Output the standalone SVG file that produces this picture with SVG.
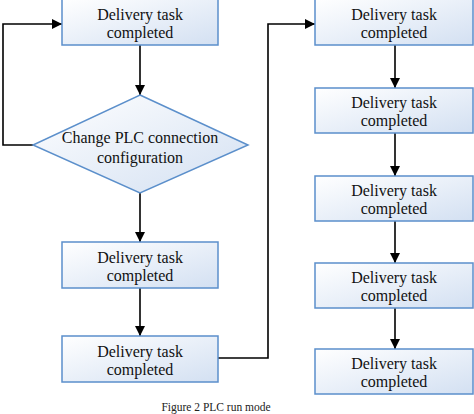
<svg xmlns="http://www.w3.org/2000/svg" width="474" height="414" viewBox="0 0 474 414">
<defs>
<linearGradient id="g" x1="0" y1="0" x2="1" y2="1">
<stop offset="0" stop-color="#ffffff"/>
<stop offset="1" stop-color="#d3e0f2"/>
</linearGradient>
<marker id="ah" viewBox="0 0 10 10" refX="10" refY="5" markerWidth="10" markerHeight="10" markerUnits="userSpaceOnUse" orient="auto">
<path d="M0,0 L10,5 L0,10 Z" fill="#000"/>
</marker>
<style>
.box{fill:url(#g);stroke:#5b8fcb;stroke-width:1.5}
.t{font-family:"Liberation Serif",serif;font-size:16px;fill:#111;text-anchor:middle}
.c{fill:none;stroke:#000;stroke-width:1.6;marker-end:url(#ah)}
</style>
</defs>
<rect width="474" height="414" fill="#fff"/>
<g id="connectors">
<path class="c" d="M140,45 V95"/>
<path class="c" d="M33,145 H3 V24 H62"/>
<path class="c" d="M140,193 V242"/>
<path class="c" d="M140,288 V336"/>
<path class="c" d="M218,358 H268 V24 H315"/>
<path class="c" d="M395,45 V88"/>
<path class="c" d="M395,133 V176"/>
<path class="c" d="M395,221 V263"/>
<path class="c" d="M395,308 V349"/>
</g>
<g id="L1"><rect class="box" x="62" y="-1" width="156" height="46"/><text class="t" x="140" y="20">Delivery task</text><text class="t" x="140" y="38">completed</text></g>
<g id="D1"><polygon class="box" points="140,95 248,145 140,193 33,145"/><text class="t" x="140" y="143">Change PLC connection</text><text class="t" x="140" y="163">configuration</text></g>
<g id="L2"><rect class="box" x="62" y="242" width="156" height="46"/><text class="t" x="140" y="263">Delivery task</text><text class="t" x="140" y="281">completed</text></g>
<g id="L3"><rect class="box" x="62" y="336" width="156" height="46"/><text class="t" x="140" y="357">Delivery task</text><text class="t" x="140" y="375">completed</text></g>
<g id="R1"><rect class="box" x="315" y="-1" width="158" height="46"/><text class="t" x="394" y="20">Delivery task</text><text class="t" x="394" y="38">completed</text></g>
<g id="R2"><rect class="box" x="315" y="88" width="158" height="45"/><text class="t" x="394" y="108">Delivery task</text><text class="t" x="394" y="126">completed</text></g>
<g id="R3"><rect class="box" x="315" y="176" width="158" height="45"/><text class="t" x="394" y="196">Delivery task</text><text class="t" x="394" y="214">completed</text></g>
<g id="R4"><rect class="box" x="315" y="263" width="158" height="45"/><text class="t" x="394" y="283">Delivery task</text><text class="t" x="394" y="301">completed</text></g>
<g id="R5"><rect class="box" x="315" y="349" width="158" height="45"/><text class="t" x="394" y="369">Delivery task</text><text class="t" x="394" y="387">completed</text></g>
<text x="216" y="411" font-family="Liberation Serif, serif" font-size="11.5" fill="#222" text-anchor="middle">Figure 2 PLC run mode</text>
</svg>
